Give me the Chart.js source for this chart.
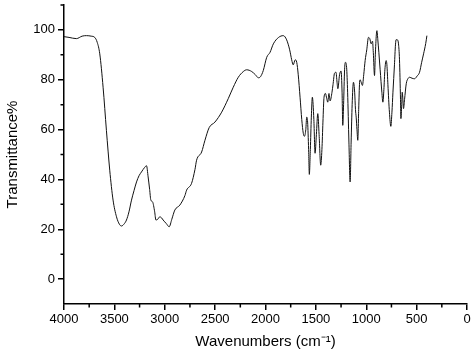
<!DOCTYPE html>
<html><head><meta charset="utf-8">
<script src="https://cdn.jsdelivr.net/npm/chart.js@4/dist/chart.umd.min.js"></script>
<style>html,body{margin:0;padding:0;background:#fff}#wrap{width:474px;height:358px}</style>
</head><body><div id="wrap"><canvas id="c" width="474" height="358"></canvas></div>
<script>
const wavenumbers = [4000,3950,3877,3820,3777,3730,3695,3670,3645,3612,3579,3546,3513,3479,3450,3430,3400,3380,3355,3330,3305,3280,3255,3231,3200,3181,3165,3150,3138,3121,3100,3088,3070,3049,3030,3016,2985,2956,2930,2900,2850,2800,2783,2734,2700,2684,2634,2601,2559,2502,2435,2370,2320,2270,2220,2187,2137,2100,2071,2050,2022,1988,1955,1922,1870,1823,1790,1760,1740,1725,1705,1690,1675,1657,1640,1625,1614,1600,1591,1582,1572,1565,1555,1545,1535,1520,1508,1495,1481,1468,1452,1440,1430,1419,1405,1392,1382,1370,1359,1340,1330,1315,1300,1290,1282,1265,1250,1240,1233,1225,1215,1207,1195,1185,1172,1160,1150,1140,1127,1115,1107,1100,1092,1084,1075,1066,1061,1050,1038,1025,1011,995,978,965,951,938,930,918,910,900,894,885,875,862,845,835,825,815,802,795,785,770,756,745,735,720,710,703,690,680,670,660,656,648,643,636,630,620,603,585,570,545,521,495,471,450,431,410,398];
const transmittance = [97.3,97.0,96.5,97.5,97.7,97.5,97.0,95.0,90.4,77.0,59.7,43.7,31.7,25.0,22.0,21.3,22.3,23.7,27.0,31.7,35.5,39.0,41.5,43.0,44.8,45.5,41.0,36.0,31.7,31.0,27.0,23.7,24.0,25.0,24.5,23.7,22.3,21.0,24.0,27.7,29.7,33.5,35.7,38.4,44.0,47.7,51.0,55.7,60.8,63.0,67.0,72.4,77.0,81.0,83.3,84.0,83.3,82.0,80.8,81.2,83.7,89.0,91.0,94.4,97.0,97.7,96.0,92.0,88.0,86.0,88.0,87.0,82.0,73.0,64.0,58.5,57.3,60.0,65.0,63.0,52.0,42.0,52.0,65.0,73.0,64.0,50.5,58.0,66.4,58.0,45.7,52.0,63.0,73.0,74.5,72.4,71.0,74.5,71.5,75.0,78.0,82.6,83.0,79.0,76.4,82.0,83.5,75.0,61.7,70.0,84.0,87.0,85.0,75.0,55.0,39.0,55.0,70.0,79.0,75.0,68.0,65.0,60.0,55.7,68.0,79.0,80.0,79.0,77.7,82.0,87.7,92.0,97.0,96.5,94.4,95.5,91.0,81.7,90.0,98.0,99.7,96.0,91.0,84.0,75.0,71.0,76.0,84.0,87.7,86.0,78.0,67.0,61.3,67.0,75.0,86.0,94.0,96.1,96.0,94.4,88.0,72.0,64.4,70.0,75.0,72.0,68.4,72.0,78.4,80.5,81.0,80.6,80.4,81.5,83.0,87.0,90.4,94.5,97.7];
const xTickValues = [4000,3500,3000,2500,2000,1500,1000,500,0];
const yTickValues = [0,20,40,60,80,100];
const xMinorTicks = [3750,3250,2750,2250,1750,1250,750,250];
const yMinorTicks = [10,30,50,70,90,110];

const minorTicks = {
  id: 'minorTicks',
  afterDraw(chart) {
    const ctx = chart.ctx, xs = chart.scales.x, ys = chart.scales.y;
    ctx.save();
    ctx.strokeStyle = '#000';
    ctx.lineWidth = 1.5;
    ctx.beginPath();
    xMinorTicks.forEach(v => { const p = xs.getPixelForValue(v); ctx.moveTo(p, xs.top); ctx.lineTo(p, xs.top + 3.5); });
    yMinorTicks.forEach(v => { const p = ys.getPixelForValue(v); ctx.moveTo(ys.right, p); ctx.lineTo(ys.right - 3.5, p); });
    ctx.stroke();
    ctx.restore();
  }
};

new Chart(document.getElementById('c'), {
  type: 'line',
  data: {
    datasets: [{
      data: wavenumbers.map((w, i) => ({x: w, y: transmittance[i]})),
      borderColor: '#111',
      borderWidth: 1,
      pointRadius: 0,
      fill: false,
      cubicInterpolationMode: 'monotone'
    }]
  },
  options: {
    responsive: false,
    animation: false,
    devicePixelRatio: 1,
    layout: {padding: {left: 0, right: 7, top: 5, bottom: 7}},
    plugins: {legend: {display: false}, tooltip: {enabled: false}},
    scales: {
      x: {
        type: 'linear', reverse: true, min: 0, max: 4000,
        afterBuildTicks: s => { s.ticks = xTickValues.map(v => ({value: v})); },
        afterFit: s => { s.height = 47; s.paddingLeft = 0; s.paddingRight = 0; },
        ticks: {font: {family: 'Liberation Sans, Arial', size: 13}, color: '#000', padding: 2, maxRotation: 0, autoSkip: false, callback: v => String(v)},
        grid: {drawOnChartArea: false, drawTicks: true, tickLength: 6, color: '#000', lineWidth: 1.5},
        border: {display: true, color: '#000', width: 1.5},
        title: {display: true, text: 'Wavenumbers (cm⁻¹)', font: {family: 'Liberation Sans, Arial', size: 15}, color: '#000', padding: {top: 0, bottom: 0}}
      },
      y: {
        min: -10, max: 110,
        afterBuildTicks: s => { s.ticks = yTickValues.map(v => ({value: v})); },
        afterFit: s => { s.width = 64; s.paddingTop = 0; s.paddingBottom = 0; },
        ticks: {font: {family: 'Liberation Sans, Arial', size: 13}, color: '#000', padding: 3, callback: v => String(v)},
        grid: {drawOnChartArea: false, drawTicks: true, tickLength: 6, color: '#000', lineWidth: 1.5},
        border: {display: true, color: '#000', width: 1.5},
        title: {display: true, text: 'Transmittance%', font: {family: 'Liberation Sans, Arial', size: 15}, color: '#000', padding: {top: 4, bottom: 0}}
      }
    }
  },
  plugins: [minorTicks]
});
</script>
</body></html>
